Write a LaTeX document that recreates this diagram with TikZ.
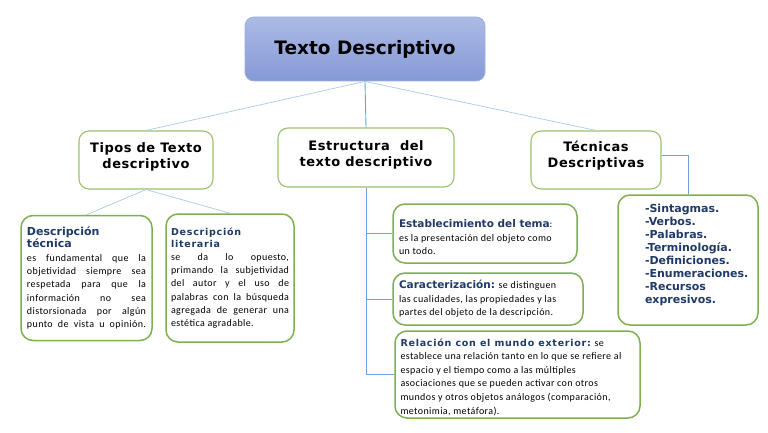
\documentclass[tikz,border=0pt]{standalone}
\usepackage{fontspec}
\setmainfont{Carlito}
\newfontfamily\bodyf{Carlito}[LetterSpace=4]
\newfontfamily\blackf{DejaVu Sans}
\newfontfamily\hdf{DejaVu Sans}[LetterSpace=4]
\newfontfamily\spacedf{DejaVu Sans}[LetterSpace=8]
\definecolor{maintop}{HTML}{ABBBE5}
\definecolor{mainbot}{HTML}{8599D6}
\definecolor{mainedge}{HTML}{9FB0E0}
\definecolor{lgreen}{HTML}{9CC270}
\definecolor{dgreen}{HTML}{7DB04E}
\definecolor{lblue}{HTML}{A9CBEA}
\definecolor{mblue}{HTML}{6FA3D8}
\definecolor{navy}{HTML}{1F3A68}
\newcommand\jl[1]{\makebox[\linewidth][s]{#1}}
\newcommand\hd[3]{\parbox{#1pt}{\centering\hdf\bfseries\fontsize{13}{16}\selectfont #3\par\vspace*{#2pt}}}
\begin{document}
\begin{tikzpicture}[x=1pt,y=-1pt,
 mainbox/.style={draw=mainedge, line width=0.8pt, rounded corners=9pt, top color=maintop, bottom color=mainbot, minimum width=240pt, minimum height=64pt, inner sep=0pt},
 lvbox/.style={draw=lgreen, line width=1.1pt, rounded corners=10pt, fill=white, inner sep=0pt},
 subbox/.style={draw=dgreen, line width=1.5pt, rounded corners=12pt, fill=white, inner sep=0pt},
 thinlink/.style={draw=lblue, line width=0.7pt},
 link/.style={draw=mblue, line width=0.9pt}]
\fill[white] (0,0) rectangle (768,433);
\useasboundingbox (0,0) rectangle (768,433);

\node[mainbox] (main) at (365,49) {\blackf\bfseries\fontsize{18.5}{20}\selectfont Texto Descriptivo};

\node[lvbox, minimum width=134pt, minimum height=58pt] (tipos) at (146,160) {\hd{128}{6}{Tipos de Texto\\descriptivo}};
\node[lvbox, minimum width=176pt, minimum height=59pt] (estr) at (366,157.5) {\hd{170}{6}{Estructura\ \ del\\texto descriptivo}};
\node[lvbox, minimum width=130pt, minimum height=58pt] (tec) at (596,160) {\hd{124}{9}{Técnicas\\Descriptivas}};

\node[subbox, minimum width=131pt, minimum height=125pt] (dtec) at (86.5,278) {\parbox{119pt}{%
 {\blackf\bfseries\fontsize{11}{12.5}\selectfont\color{navy}Descripción\\técnica\par}\vspace{0pt}%
 \bodyf\fontsize{10}{13.3}\selectfont
 \jl{es fundamental que la}\\
 \jl{objetividad siempre sea}\\
 \jl{respetada para que la}\\
 \jl{información no sea}\\
 \jl{distorsionada por algún}\\
 \jl{punto de vista u opinión.}}};

\node[subbox, minimum width=128pt, minimum height=128pt] (dlit) at (230,278) {\parbox{118pt}{%
 {\spacedf\bfseries\fontsize{9.5}{12}\selectfont\color{navy}Descripción\\literaria\par}\vspace{0pt}%
 \bodyf\fontsize{10}{13.3}\selectfont
 \jl{se da lo opuesto,}\\
 \jl{primando la subjetividad}\\
 \jl{del autor y el uso de}\\
 \jl{palabras con la búsqueda}\\
 \jl{agregada de generar una}\\
 estética agradable.}};

\node[subbox, minimum width=184pt, minimum height=59pt] (est) at (485,233.5) {\parbox{172pt}{\vspace*{8pt}\raggedright\bodyf\fontsize{10}{13.5}\selectfont
 {\blackf\bfseries\fontsize{10.5}{13.5}\selectfont\color{navy}Establecimiento del tema}:\\
 es la presentación del objeto como\\
 un todo.}};

\node[subbox, minimum width=190pt, minimum height=52pt] (car) at (488,299) {\parbox{178pt}{\raggedright\bodyf\fontsize{10}{13.5}\selectfont
 {\blackf\bfseries\fontsize{10.5}{13.5}\selectfont\color{navy}Caracterización:} se distinguen\\
 las cualidades, las propiedades y las\\
 partes del objeto de la descripción.}};

\node[subbox, minimum width=245pt, minimum height=87pt] (rel) at (517.5,374.5) {\parbox{234pt}{\vspace*{5pt}\raggedright\bodyf\fontsize{10}{13.6}\selectfont
 {\spacedf\bfseries\fontsize{9.5}{13.6}\selectfont\color{navy}Relación con el mundo exterior:} se\\
 establece una relación tanto en lo que se refiere al\\
 espacio y el tiempo como a las múltiples\\
 asociaciones que se pueden activar con otros\\
 mundos y otros objetos análogos (comparación,\\
 metonimia, metáfora).}};

\node[subbox, minimum width=140pt, minimum height=130pt] (list) at (688,260) {\parbox[c][130pt][t]{140pt}{\raggedright\leftskip=27pt\lineskiplimit=-8pt\relax
 \vspace*{9pt}\blackf\bfseries\fontsize{11}{13}\selectfont\color{navy}%
 -Sintagmas.\\
 -Verbos.\\
 -Palabras.\\
 -Terminología.\\
 -Definiciones.\\
 -Enumeraciones.\\
 -Recursos\\
 expresivos.}};

\draw[thinlink] (main.south) -- (tipos.north);
\draw[link] (main.south) -- (estr.north);
\draw[thinlink] (main.south) -- (tec.north);
\draw[thinlink] (tipos.south) -- (dtec.north);
\draw[thinlink] (tipos.south) -- (dlit.north);
\draw[link] (estr.south) |- (est.west);
\draw[link] (estr.south) |- (car.west);
\draw[link] (estr.south) |- (rel.west);
\draw[link] ([yshift=5pt]tec.east) -| (list.north);
\end{tikzpicture}
\end{document}
